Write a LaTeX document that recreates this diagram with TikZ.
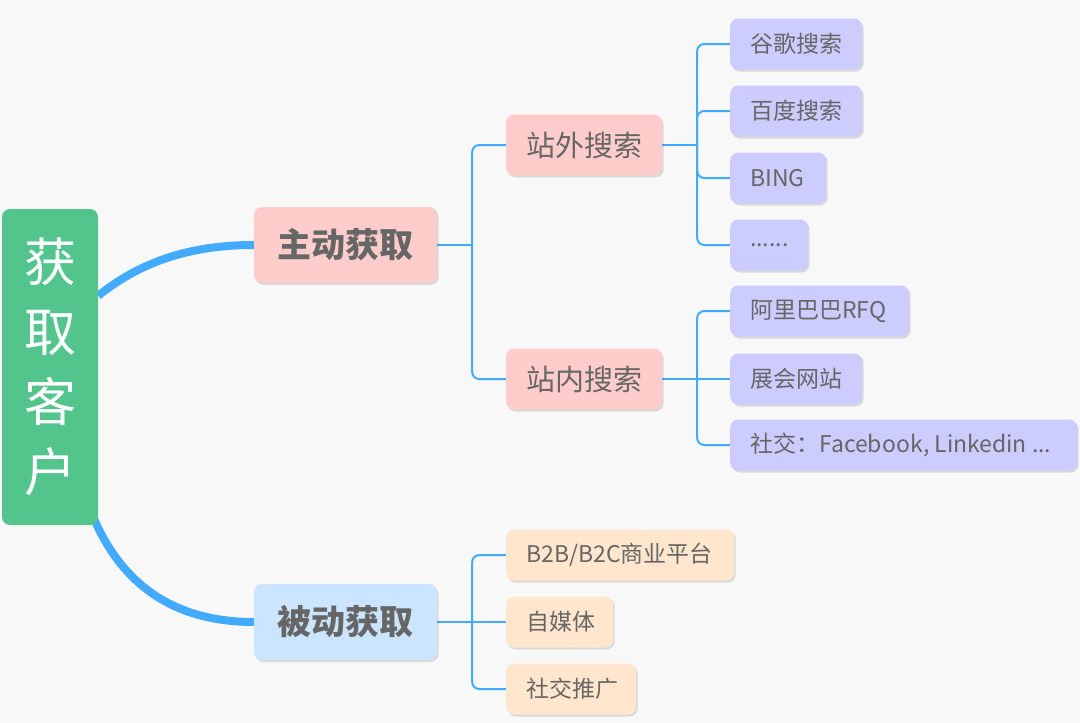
\documentclass[tikz,border=0pt]{standalone}
\usepackage{fontspec}
\setmainfont{Noto Sans CJK SC}
\usetikzlibrary{shadows,backgrounds,calc}
\definecolor{bg}{HTML}{F8F8F8}
\definecolor{rootgreen}{HTML}{52C48C}
\definecolor{pinkbox}{HTML}{FFCCCC}
\definecolor{bluebox}{HTML}{CCE5FF}
\definecolor{lavbox}{HTML}{CCCCFF}
\definecolor{peachbox}{HTML}{FFE6CC}
\definecolor{linkblue}{HTML}{42AAFF}
\definecolor{txt}{HTML}{666666}
\newcommand{\lfbox}[2]{\makebox[#1pt][l]{#2}}
\begin{document}
\begin{tikzpicture}[x=1pt,y=-1pt,
  box/.style={rounded corners=8pt, text=txt, inner sep=0pt,
    drop shadow={shadow xshift=1.5pt, shadow yshift=-2pt, fill=black, opacity=0.12}},
  rootbox/.style={rounded corners=8pt, fill=rootgreen, text=white, inner sep=0pt,
    minimum width=96pt, minimum height=316pt, align=center,
    font=\fontsize{52}{70}\selectfont},
  topbox/.style={box, minimum width=183pt, minimum height=76pt,
    font=\fontsize{34}{40}\selectfont\bfseries},
  midbox/.style={box, fill=pinkbox, minimum width=156pt, minimum height=61pt,
    font=\fontsize{29}{34}\selectfont},
  leafbox/.style={box, anchor=west, minimum height=51pt, inner xsep=20pt,
    font=\fontsize{23}{28}\selectfont},
  thickline/.style={draw=linkblue, line width=8pt},
  thinline/.style={draw=linkblue, line width=2pt, rounded corners=7pt}
]
\begin{pgfonlayer}{background}
\fill[bg] (0,0) rectangle (1080,723);
\end{pgfonlayer}
\useasboundingbox (0,0) rectangle (1080,723);

\node[rootbox] (root) at (50,367) {获\\取\\客\\户};
\node[topbox, fill=pinkbox] (zd) at (345.5,245) {主动获取};
\node[topbox, fill=bluebox] (bd) at (345.5,622) {被动获取};
\node[midbox] (zw) at (584,145) {站外搜索};
\node[midbox] (zn) at (584,379) {站内搜索};

\node[leafbox, fill=lavbox] (g1) at (730,44) {\lfbox{92}{谷歌搜索}};
\node[leafbox, fill=lavbox] (g2) at (730,111) {\lfbox{92}{百度搜索}};
\node[leafbox, fill=lavbox] (g3) at (730,178) {\lfbox{56}{BING}};
\node[leafbox, fill=lavbox] (g4) at (730,245) {\lfbox{38}{......}};
\node[leafbox, fill=lavbox] (n1) at (730,311) {\lfbox{139}{阿里巴巴RFQ}};
\node[leafbox, fill=lavbox] (n2) at (730,379) {\lfbox{92}{展会网站}};
\node[leafbox, fill=lavbox] (n3) at (730,445) {\lfbox{307}{社交：Facebook, Linkedin ...}};
\node[leafbox, fill=peachbox] (p1) at (506,555) {\lfbox{188}{B2B/B2C商业平台}};
\node[leafbox, fill=peachbox] (p2) at (506,622) {\lfbox{67}{自媒体}};
\node[leafbox, fill=peachbox] (p3) at (506,689) {\lfbox{90}{社交推广}};

\path (zd.east) ++(35,0) coordinate (j1);
\path (zw.east) ++(35,0) coordinate (j2);
\path (zn.east) ++(35,0) coordinate (j3);
\path (bd.east) ++(35,0) coordinate (j4);
\coordinate (r1) at ($(root.north east)+(0,87)$);
\coordinate (r2) at ($(root.south east)+(-4,-6)$);

\begin{pgfonlayer}{background}
\draw[thickline] (r1) .. controls (140,262) and (190,245) .. (zd.west);
\draw[thickline] (r2) .. controls (125,590) and (180,622) .. (bd.west);

\draw[thinline] (zd.east) -- (j1);
\draw[thinline] (j1) |- (zw.west);
\draw[thinline] (j1) |- (zn.west);

\draw[thinline] (zw.east) -- (j2);
\draw[thinline] (j2) |- (g1.west);
\draw[thinline] (j2) |- (g2.west);
\draw[thinline] (j2) |- (g3.west);
\draw[thinline] (j2) |- (g4.west);

\draw[thinline] (zn.east) -- (j3);
\draw[thinline] (j3) |- (n1.west);
\draw[thinline] (j3) -- (n2.west);
\draw[thinline] (j3) |- (n3.west);

\draw[thinline] (bd.east) -- (j4);
\draw[thinline] (j4) |- (p1.west);
\draw[thinline] (j4) -- (p2.west);
\draw[thinline] (j4) |- (p3.west);
\end{pgfonlayer}
\end{tikzpicture}
\end{document}
